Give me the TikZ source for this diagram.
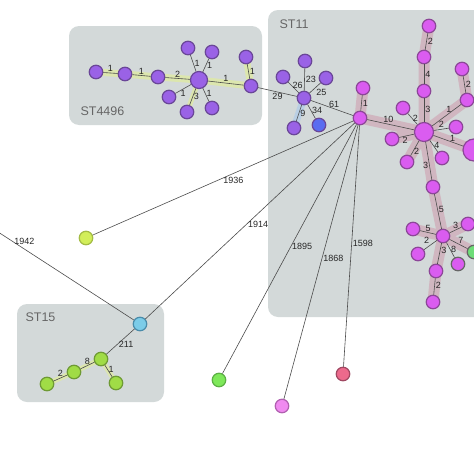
\documentclass[tikz,border=0pt]{standalone}
\usepackage{fontspec}
\setmainfont{Liberation Sans}
\usetikzlibrary{arrows,positioning}

\pgfdeclarelayer{boxes}
\pgfdeclarelayer{glow}
\pgfsetlayers{boxes,glow,main}

\definecolor{boxgray}{HTML}{D3D9D9}
\definecolor{purpfill}{HTML}{9A62E6}
\definecolor{purpline}{HTML}{6A4698}
\definecolor{magfill}{HTML}{DA5CF0}
\definecolor{magline}{HTML}{8C4698}
\definecolor{bluefill}{HTML}{5A6CF0}
\definecolor{greenfill}{HTML}{A0DC46}
\definecolor{greenline}{HTML}{6E9A34}
\definecolor{limefill}{HTML}{D2EE5A}
\definecolor{limeline}{HTML}{A4BC44}
\definecolor{brightgreen}{HTML}{7EE85A}
\definecolor{brightline}{HTML}{5CB044}
\definecolor{pinkfill}{HTML}{F08AF0}
\definecolor{pinkline}{HTML}{B060B0}
\definecolor{rosefill}{HTML}{EC6A8C}
\definecolor{roseline}{HTML}{A04862}
\definecolor{cyanfill}{HTML}{7CCCE8}
\definecolor{cyanline}{HTML}{4A8CAA}
\definecolor{mintfill}{HTML}{6EDC78}
\definecolor{pinkglow}{HTML}{D0B6C0}
\definecolor{greenglow}{HTML}{DCE6AE}
\definecolor{blueglow}{HTML}{B9CFE4}

\begin{document}
\begin{tikzpicture}[x=1pt, y=-1pt, >=latex,
  every node/.style={font=\fontsize{9}{10}\selectfont},
  st/.style={circle, draw, line width=1.2pt, inner sep=0pt, minimum size=13.5pt},
  purp/.style={st, fill=purpfill, draw=purpline},
  mag/.style={st, fill=magfill, draw=magline},
  grn/.style={st, fill=greenfill, draw=greenline},
  lbl/.style={inner sep=1pt, text=black!85},
  link/.style={draw=black!70, line width=0.6pt},
  band/.style={line width=11pt, line cap=round, line join=round, draw=pinkglow},
  gband/.style={line width=7pt, line cap=round, line join=round, draw=greenglow},
  region/.style={fill=boxgray, rounded corners=10pt},
  title/.style={font=\fontsize{12.5}{14}\selectfont, text=black!60, anchor=west}]

  \useasboundingbox (0,0) rectangle (474,474);
  \clip (0,0) rectangle (474,474);

  % Groups
  \begin{pgfonlayer}{boxes}
    \fill[region] (69,26) rectangle (262,125);
    \fill[region] (268,10) rectangle (490,317);
    \fill[region] (17,304) rectangle (164,402);
  \end{pgfonlayer}
  \node (t4496) [title] at (77,111) {ST4496};
  \node (t11) [title] at (276,24) {ST11};
  \node (t15) [title] at (22,317) {ST15};

  % ST4496
  \node (a1) [purp] at (96,72) {};
  \node (a2) [purp] at (125,74) {};
  \node (a3) [purp] at (158,77) {};
  \node (a4) [purp, minimum size=17pt] at (199,80) {};
  \node (a5) [purp] at (188,48) {};
  \node (a6) [purp] at (212,52) {};
  \node (a7) [purp] at (169,97) {};
  \node (a8) [purp] at (187,112) {};
  \node (a9) [purp] at (212,108) {};
  \node (a10) [purp] at (251,86) {};
  \node (a11) [purp] at (246,57) {};

  % ST11
  \node (b) [purp] at (304,98) {};
  \node (b1) [purp] at (305,61) {};
  \node (b2) [purp] at (283,77) {};
  \node (b3) [purp] at (326,78) {};
  \node (b4) [purp] at (294,128) {};
  \node (b5) [st, fill=bluefill, draw=purpline] at (319,125) {};
  \node (c) [mag] at (360,118) {};
  \node (c1) [mag] at (363,88) {};
  \node (d) [mag, minimum size=19pt] at (424,132) {};
  \node (d1) [mag] at (424,91) {};
  \node (d2) [mag] at (424,57) {};
  \node (d3) [mag] at (429,26) {};
  \node (d4) [mag] at (403,108) {};
  \node (d5) [mag] at (456,127) {};
  \node (d6) [mag] at (467,100) {};
  \node (d7) [mag] at (462,69) {};
  \node (d8) [mag, minimum size=22pt] at (474,150) {};
  \node (d9) [mag] at (392,139) {};
  \node (d10) [mag] at (407,162) {};
  \node (d11) [mag] at (442,158) {};
  \node (d12) [mag] at (433,187) {};
  \node (h) [mag] at (443,236) {};
  \node (h1) [mag] at (413,229) {};
  \node (h2) [mag] at (468,224) {};
  \node (h3) [mag] at (418,254) {};
  \node (h4) [mag] at (436,271) {};
  \node (h5) [mag] at (433,302) {};
  \node (h6) [mag, draw=black!60] at (458,264) {};
  \node (h7) [st, fill=mintfill, draw=black!60] at (474,252) {};

  % Singletons and ST15
  \node (e1) [st, fill=limefill, draw=limeline] at (86,238) {};
  \node (e2) [st, fill=brightgreen, draw=brightline] at (219,380) {};
  \node (e3) [st, fill=pinkfill, draw=pinkline] at (282,406) {};
  \node (e4) [st, fill=rosefill, draw=roseline] at (343,374) {};
  \node (f) [st, fill=cyanfill, draw=cyanline] at (140,324) {};
  \node (g1) [grn] at (101,359) {};
  \node (g2) [grn] at (74,372) {};
  \node (g3) [grn] at (47,384) {};
  \node (g4) [grn] at (116,383) {};
  \coordinate (lft) at (-5,230);

  % Shading behind links
  \begin{pgfonlayer}{glow}
    \draw[gband] (a1.center) -- (a2.center) -- (a3.center) -- (a4.center) -- (a10.center) -- (a11.center);
    \draw[gband, line width=5pt] (a4.center) -- (a8.center);
    \draw[gband, line width=5pt] (g3.center) -- (g2.center) -- (g1.center) -- (g4.center);
    \draw[gband, draw=blueglow] (b.center) -- (b4.center);
    \draw[band] (c1.center) -- (c.center) -- (d.center) -- (d8.center);
    \draw[band] (d.center) -- (d1.center) -- (d2.center) -- (d3.center);
    \draw[band] (d.center) -- (d6.center) -- (d7.center);
    \draw[band] (d9.center) -- (d.center) -- (d10.center);
    \draw[band] (d.center) -- (d12.center) -- (h.center) -- (h4.center) -- (h5.center);
    \draw[band] (h1.center) -- (h.center) -- (h2.center);
    \draw[band] (h.center) -- (h7.center);
  \end{pgfonlayer}

  % Links
  \draw[link] (a1) -- node[lbl, above] {1} (a2);
  \draw[link] (a2) -- node[lbl, above] {1} (a3);
  \draw[link] (a3) -- node[lbl, above] {2} (a4);
  \draw[link] (a4) -- node[lbl, right] {1} (a5);
  \draw[link] (a4) -- node[lbl, right] {1} (a6);
  \draw[link] (a4) -- node[lbl, below] {1} (a7);
  \draw[link] (a4) -- node[lbl, right] {3} (a8);
  \draw[link] (a4) -- node[lbl, right, pos=0.4] {1} (a9);
  \draw[link] (a4) -- node[lbl, above] {1} (a10);
  \draw[link] (a10) -- node[lbl, right] {1} (a11);
  \draw[link] (a10) -- node[lbl, below] {29} (b);

  \draw[link] (b) -- node[lbl, right] {23} (b1);
  \draw[link] (b) -- node[lbl, right, pos=0.7] {26} (b2);
  \draw[link] (b) -- node[lbl, below right] {25} (b3);
  \draw[link] (b) -- node[lbl, right] {9} (b4);
  \draw[link] (b) -- node[lbl, right, pos=0.42] {34} (b5);
  \draw[link] (b) -- node[lbl, above, pos=0.55] {61} (c);

  \draw[link] (c) -- node[lbl, right] {1} (c1);
  \draw[link] (c) -- node[lbl, above, pos=0.45] {10} (d);
  \draw[link] (c) -- node[lbl, below, pos=0.46, yshift=-2pt] {1936} (e1);
  \draw[link] (c) -- node[lbl, right, pos=0.515] {1914} (f);
  \draw[link] (c) -- node[lbl, right, pos=0.49] {1895} (e2);
  \draw[link] (c) -- node[lbl, right, pos=0.486] {1868} (e3);
  \draw[link] (c) -- node[lbl, right, pos=0.49] {1598} (e4);
  \draw[link] (lft) -- node[lbl, right, pos=0.13] {1942} (f);

  \draw[link] (d) -- node[lbl, right, pos=0.55] {3} (d1);
  \draw[link] (d1) -- node[lbl, right] {4} (d2);
  \draw[link] (d2) -- node[lbl, right] {2} (d3);
  \draw[link] (d) -- node[lbl, right, pos=0.6] {2} (d4);
  \draw[link] (d) -- node[lbl, above] {2} (d5);
  \draw[link] (d) -- node[lbl, above, pos=0.58] {1} (d6);
  \draw[link] (d6) -- node[lbl, right] {2} (d7);
  \draw[link] (d) -- node[lbl, above, pos=0.65] {1} (d8);
  \draw[link] (d) -- node[lbl, below, pos=0.6] {2} (d9);
  \draw[link] (d) -- node[lbl, right, pos=0.73] {2} (d10);
  \draw[link] (d) -- node[lbl, right, pos=0.42] {4} (d11);
  \draw[link] (d) -- node[lbl, left, pos=0.62] {3} (d12);
  \draw[link] (d12) -- node[lbl, right, pos=0.43] {5} (h);
  \draw[link] (h) -- node[lbl, above] {5} (h1);
  \draw[link] (h) -- node[lbl, above] {3} (h2);
  \draw[link] (h) -- node[lbl, above left] {2} (h3);
  \draw[link] (h) -- node[lbl, right, pos=0.37] {3} (h4);
  \draw[link] (h4) -- node[lbl, right, pos=0.42] {2} (h5);
  \draw[link] (h) -- node[lbl, right, pos=0.43] {8} (h6);
  \draw[link] (h) -- node[lbl, above, pos=0.63] {7} (h7);

  \draw[link] (f) -- node[lbl, right, pos=0.6] {211} (g1);
  \draw[link] (g1) -- node[lbl, above] {8} (g2);
  \draw[link] (g2) -- node[lbl, above] {2} (g3);
  \draw[link] (g1) -- node[lbl, right, pos=0.35] {1} (g4);

\end{tikzpicture}
\end{document}
